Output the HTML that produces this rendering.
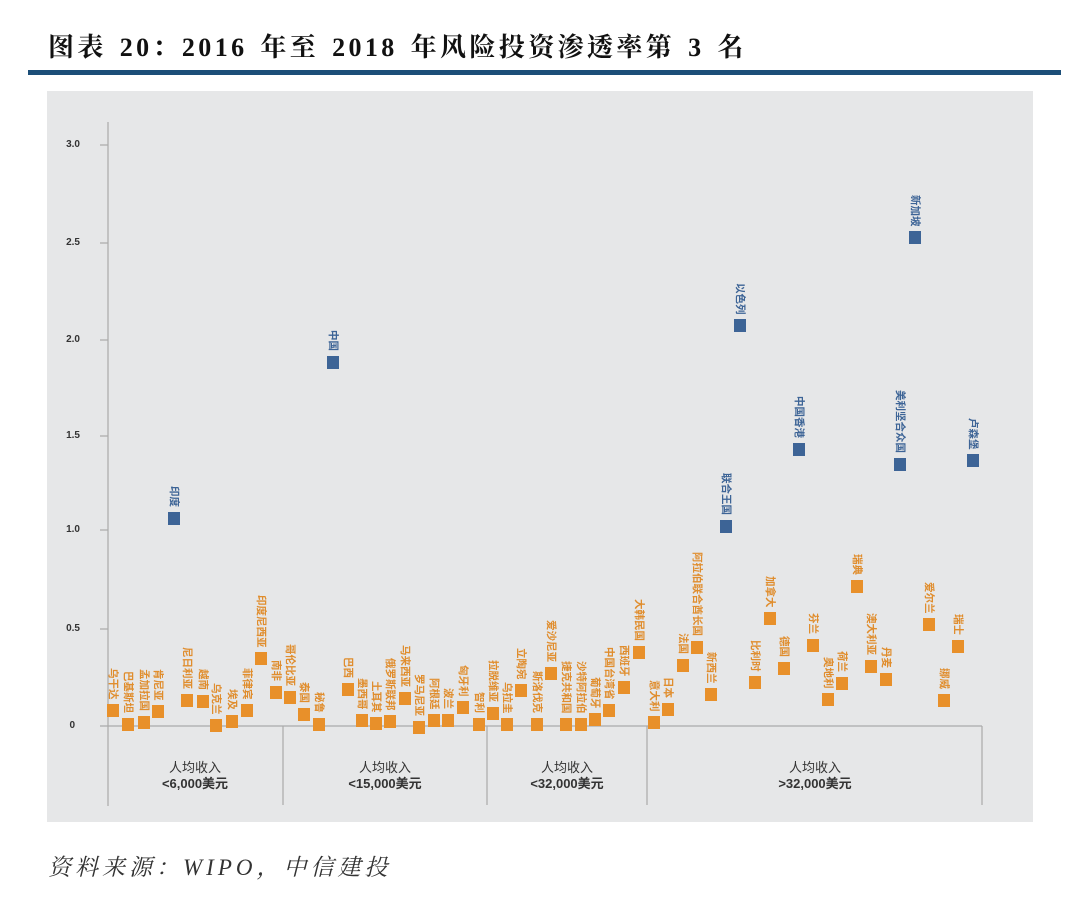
<!DOCTYPE html>
<html><head><meta charset="utf-8"><style>
body{margin:0;width:1080px;height:908px;background:#fff;position:relative;overflow:hidden;font-family:"Liberation Sans","Noto Sans CJK SC",sans-serif}
.t{position:absolute;left:48px;top:27px;font-family:"Liberation Serif","Noto Serif CJK SC",serif;font-weight:bold;font-size:26px;letter-spacing:3.4px;word-spacing:3px;color:#111;white-space:nowrap}
.bar{position:absolute;left:28px;top:70px;width:1033px;height:5px;background:#1c4e78}
.panel{position:absolute;left:47px;top:91px;width:986px;height:731px;background:#e6e7e8}
.src{position:absolute;left:48px;top:849px;font-family:"Liberation Serif","Noto Serif CJK SC",serif;font-style:italic;font-size:23px;letter-spacing:4px;color:#333;white-space:nowrap}
.m{position:absolute;width:12px;height:13px}
.o{background:#e8902a}.b{background:#3d6496}
.l{position:absolute;writing-mode:vertical-rl;text-orientation:sideways;font-size:10.5px;line-height:12px;white-space:nowrap;font-weight:bold}
.lo{color:#e08d2d}.lb{color:#3d6496}
.yt{position:absolute;font-size:10px;color:#333;width:30px;text-align:right;font-weight:bold}
.g{position:absolute;font-size:13px;color:#333;text-align:center;width:160px;line-height:16px}
</style></head><body>
<div class="t">图表 20：2016 年至 2018 年风险投资渗透率第 3 名</div>
<div class="bar"></div>
<div class="panel"></div>
<svg style="position:absolute;left:0;top:0" width="1080" height="908">
<g stroke="#aaa" stroke-width="1.2">
<line x1="108" y1="122" x2="108" y2="806"/>
<line x1="100" y1="726" x2="982" y2="726"/>
<line x1="100" y1="145" x2="108" y2="145"/><line x1="100" y1="243" x2="108" y2="243"/><line x1="100" y1="340" x2="108" y2="340"/><line x1="100" y1="436" x2="108" y2="436"/><line x1="100" y1="530" x2="108" y2="530"/><line x1="100" y1="629" x2="108" y2="629"/>
<line x1="283" y1="726" x2="283" y2="805"/><line x1="487" y1="726" x2="487" y2="805"/><line x1="647" y1="726" x2="647" y2="805"/><line x1="982" y1="726" x2="982" y2="805"/>
</g></svg>
<div class="yt" style="left:50px;top:139px">3.0</div>
<div class="yt" style="left:50px;top:237px">2.5</div>
<div class="yt" style="left:50px;top:334px">2.0</div>
<div class="yt" style="left:50px;top:430px">1.5</div>
<div class="yt" style="left:50px;top:524px">1.0</div>
<div class="yt" style="left:50px;top:623px">0.5</div>
<div class="yt" style="left:48px;top:720px;width:27px">0</div>
<div class="g" style="left:115px;top:760px">人均收入<br><b>&lt;6,000美元</b></div>
<div class="g" style="left:305px;top:760px">人均收入<br><b>&lt;15,000美元</b></div>
<div class="g" style="left:487px;top:760px">人均收入<br><b>&lt;32,000美元</b></div>
<div class="g" style="left:735px;top:760px">人均收入<br><b>&gt;32,000美元</b></div>
<div id="pts"></div>
<script>
var d=[[113,710,"乌干达"],[128,724,"巴基斯坦"],[144,722,"孟加拉国"],[158,711,"肯尼亚"],[174,518,"印度",1],[187,700,"尼日利亚"],[203,701,"越南"],[216,725,"乌克兰"],[232,721,"埃及"],[247,710,"菲律宾"],[261,658,"印度尼西亚"],[276,692,"南非"],[290,697,"哥伦比亚"],[304,714,"泰国"],[319,724,"秘鲁"],[333,362,"中国",1],[348,689,"巴西"],[362,720,"墨西哥"],[376,723,"土耳其"],[390,721,"俄罗斯联邦"],[405,698,"马来西亚"],[419,727,"罗马尼亚"],[434,720,"阿根廷"],[448,720,"波兰"],[463,707,"匈牙利"],[479,724,"智利"],[493,713,"拉脱维亚"],[507,724,"乌拉圭"],[521,690,"立陶宛"],[537,724,"斯洛伐克"],[551,673,"爱沙尼亚"],[566,724,"捷克共和国"],[581,724,"沙特阿拉伯"],[595,719,"葡萄牙"],[609,710,"中国台湾省"],[624,687,"西班牙"],[639,652,"大韩民国"],[654,722,"意大利"],[668,709,"日本"],[683,665,"法国"],[697,647,"阿拉伯联合酋长国"],[711,694,"新西兰"],[726,526,"联合王国",1],[740,325,"以色列",1],[755,682,"比利时"],[770,618,"加拿大"],[784,668,"德国"],[799,449,"中国香港",1],[813,645,"芬兰"],[828,699,"奥地利"],[842,683,"荷兰"],[857,586,"瑞典"],[871,666,"澳大利亚"],[886,679,"丹麦"],[900,464,"美利坚合众国",1],[915,237,"新加坡",1],[929,624,"爱尔兰"],[944,700,"挪威"],[958,646,"瑞士"],[973,460,"卢森堡",1]];
var h="";d.forEach(function(p){var c=p[3]?"b":"o";h+='<div class="m '+c+'" style="left:'+(p[0]-6)+'px;top:'+(p[1]-6)+'px"></div>';h+='<div class="l l'+c+'" style="left:'+(p[0]-6)+'px;bottom:'+(908-(p[1]-11))+'px">'+p[2]+'</div>';});
document.getElementById("pts").innerHTML=h;
</script>
<div class="src">资料来源：WIPO，中信建投</div>
</body></html>
